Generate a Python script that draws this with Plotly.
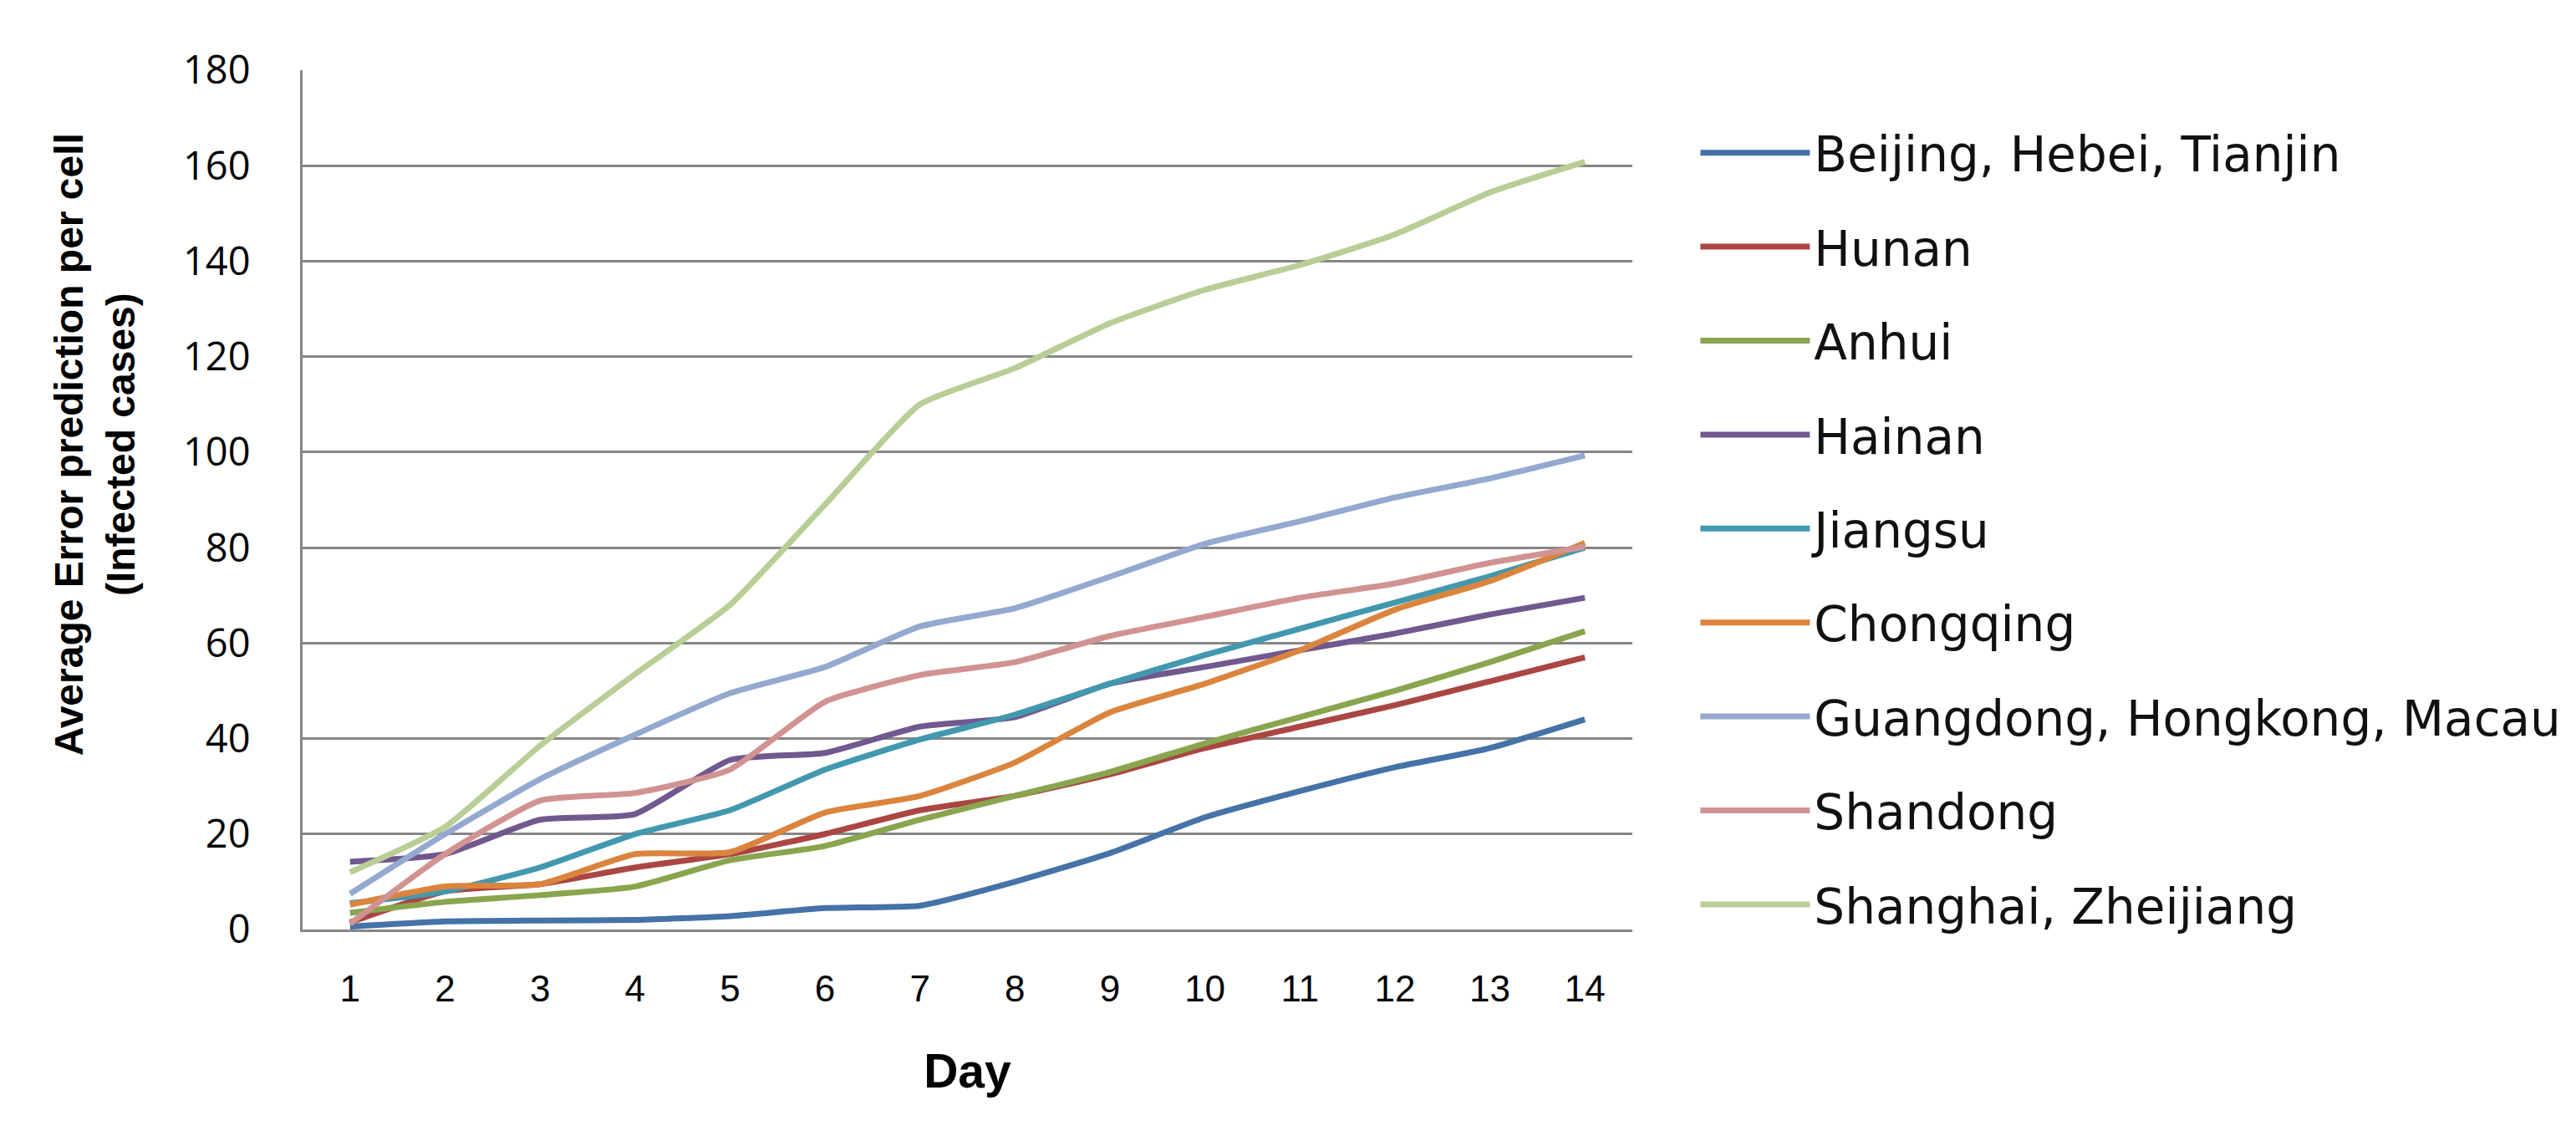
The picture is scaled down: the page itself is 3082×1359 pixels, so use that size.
import plotly.graph_objects as go

days = list(range(1, 15))
y_ticks = [0, 20, 40, 60, 80, 100, 120, 140, 160, 180]

names = [
    "Beijing, Hebei, Tianjin",
    "Hunan",
    "Anhui",
    "Hainan",
    "Jiangsu",
    "Chongqing",
    "Guangdong, Hongkong, Macau",
    "Shandong",
    "Shanghai, Zheijiang",
]

beijing = [0.6, 1.7, 1.9, 2.0, 2.8, 4.5, 5.0, 10.0, 16.0, 23.5, 29.0, 34.0, 38.0, 44.0]
hunan = [1.5, 8.0, 9.5, 13.0, 15.8, 20.0, 25.0, 28.0, 32.5, 38.0, 42.5, 47.0, 52.0, 57.0]
anhui = [3.5, 5.8, 7.2, 9.0, 14.5, 17.5, 23.0, 28.0, 33.0, 39.0, 44.5, 50.0, 56.0, 62.5]
hainan = [14.2, 15.8, 23.0, 24.2, 35.5, 37.0, 42.5, 44.5, 51.5, 55.0, 58.5, 62.0, 66.0, 69.5]
jiangsu = [5.5, 8.0, 13.0, 20.0, 25.0, 33.5, 39.8, 45.0, 51.5, 57.5, 63.0, 68.5, 74.0, 80.0]
chongqing = [5.2, 9.0, 9.5, 15.8, 16.2, 24.5, 28.0, 35.0, 45.5, 51.5, 58.5, 67.0, 73.0, 81.0]
guangdong = [7.5, 20.0, 31.5, 40.8, 49.5, 55.0, 63.5, 67.3, 73.9, 80.8, 85.5, 90.5, 94.5, 99.3]
shandong = [1.2, 15.8, 27.0, 28.6, 33.5, 47.7, 53.3, 56.0, 61.5, 65.5, 69.5, 72.5, 76.8, 80.2]
shanghai = [12.0, 21.5, 38.5, 53.5, 68.0, 89.0, 110.0, 117.6, 127.0, 134.0, 139.2, 145.6, 154.4, 160.8]

series = [beijing, hunan, anhui, hainan, jiangsu, chongqing, guangdong, shandong, shanghai]
colors = ["#4572A7", "#AA4643", "#89A54E", "#71588F", "#4198AF",
          "#DB843D", "#93A9CF", "#D19392", "#B9CD96"]

fig = go.Figure()
for name, vals, col in zip(names, series, colors):
    fig.add_trace(go.Scatter(
        x=days, y=vals, name=name, mode="lines",
        line=dict(color=col, width=7, shape="spline", smoothing=0.5),
        legendgroup=name,
    ))

grid = "#868686"
fig.update_layout(
    width=3082, height=1359,
    paper_bgcolor="white", plot_bgcolor="white",
    margin=dict(l=354, r=1137, t=76, b=255),
    showlegend=True,
    legend=dict(
        x=1.048, xanchor="left", y=0.947, yanchor="top",
        font=dict(family="DejaVu Sans", size=58, color="#111111"),
        tracegroupgap=34, itemwidth=131, bgcolor="rgba(0,0,0,0)",
    ),
    xaxis=dict(
        range=[0.5, 14.5], tickvals=days, ticktext=[str(d) for d in days],
        showgrid=False, showline=True, linecolor=grid, linewidth=3,
        ticks="", ticklabelstandoff=30,
        tickfont=dict(family="Liberation Sans", size=44, color="#000000"),
        title=dict(text="<b>Day</b>", standoff=56,
                   font=dict(family="Liberation Sans", size=57, color="#000000")),
        zeroline=False,
    ),
    yaxis=dict(
        range=[0, 180], tickvals=y_ticks,
        showgrid=True, gridcolor=grid, gridwidth=2.5,
        showline=True, linecolor=grid, linewidth=3,
        ticks="", ticklabelstandoff=50,
        tickfont=dict(family="Open Sans", size=47, color="#000000"),
        zeroline=False,
    ),
)

fig.add_annotation(
    xref="paper", yref="paper", x=-0.1565, y=0.564,
    text="<b>Average Error prediction per cell<br>(Infected cases)</b>",
    textangle=-90, showarrow=False, xanchor="center", yanchor="middle",
    font=dict(family="Liberation Sans", size=48, color="#000000"),
)

fig.write_html("out.html")
